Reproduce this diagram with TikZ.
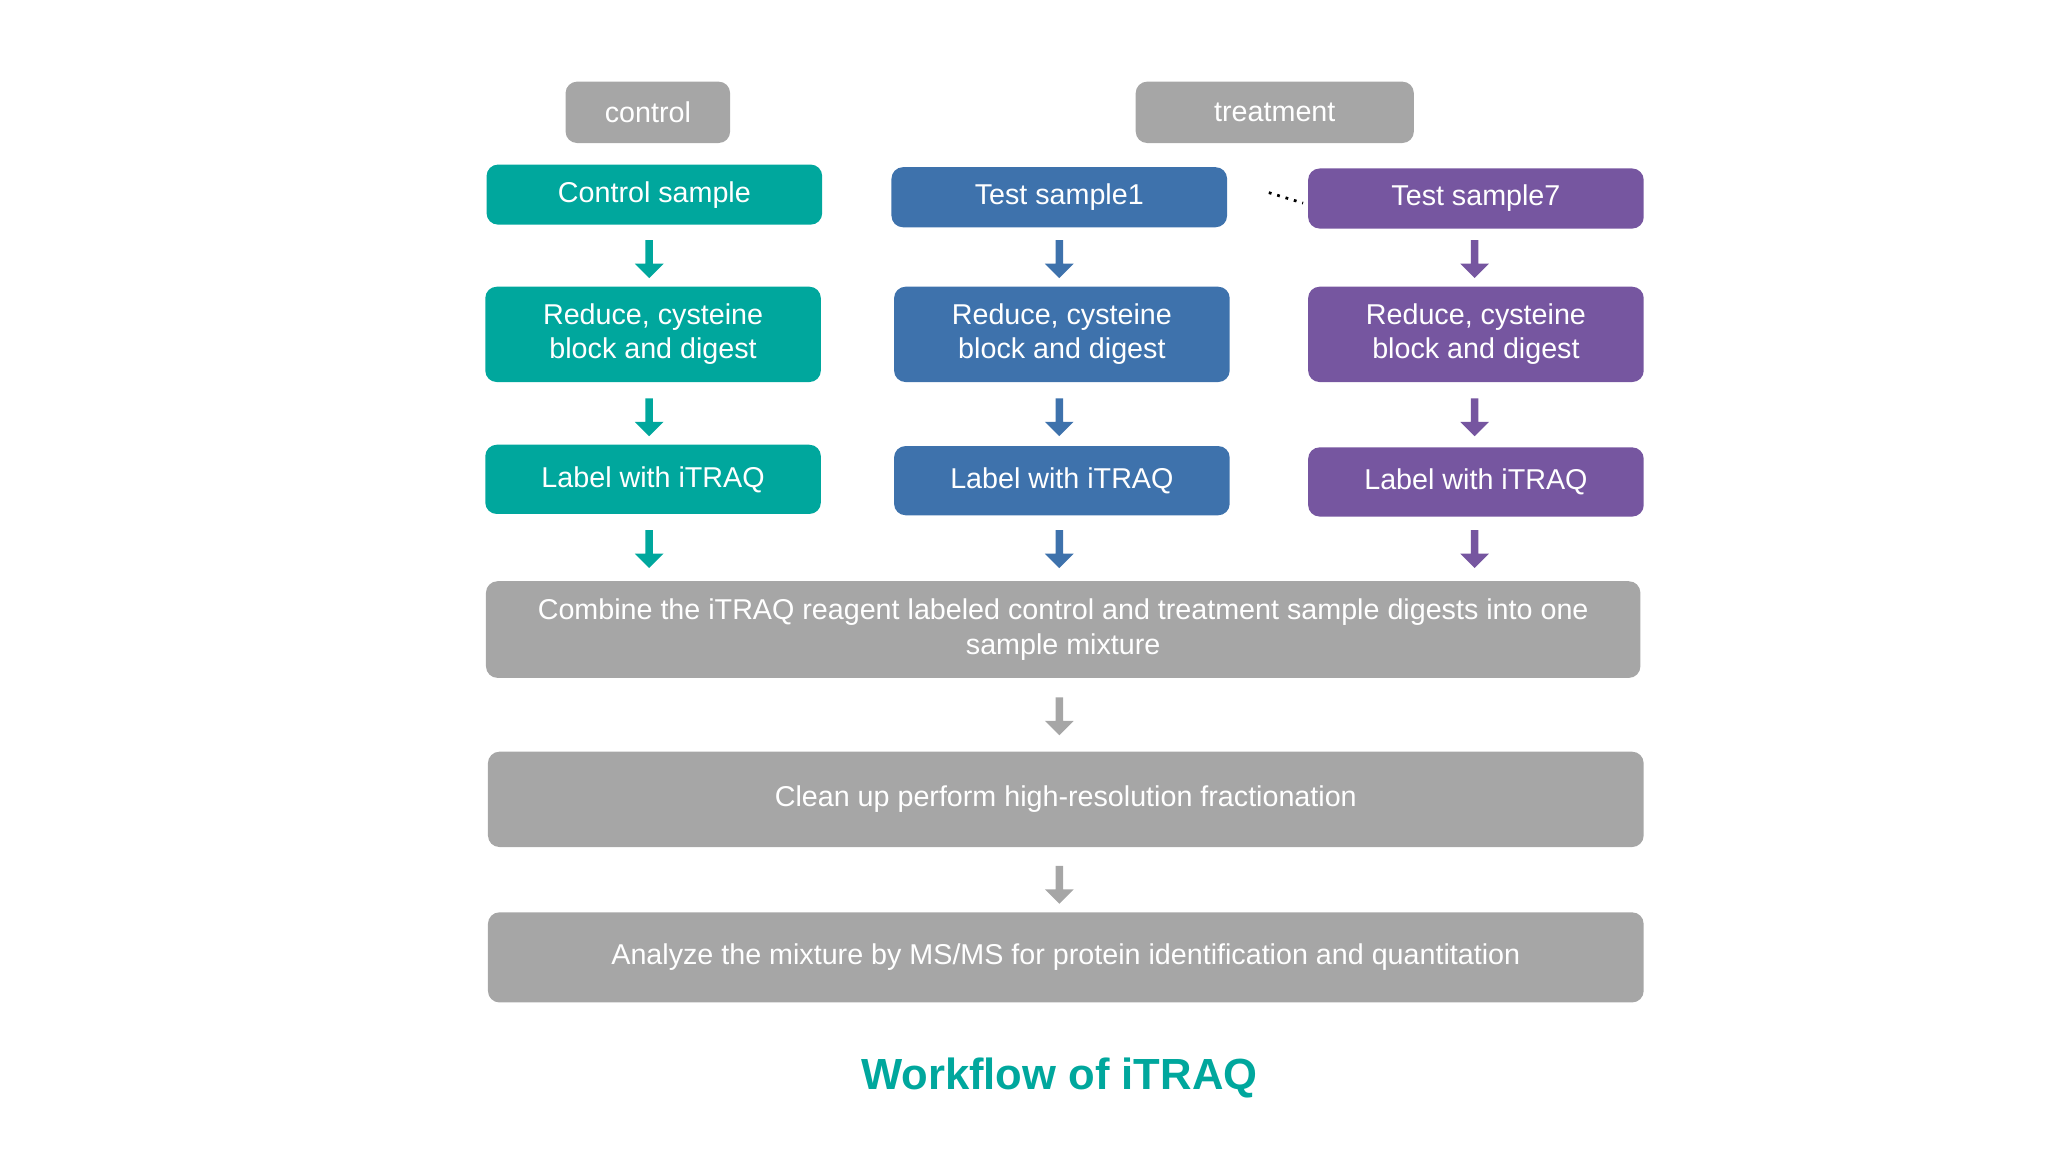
\documentclass[tikz,border=0pt]{standalone}
\usepackage{fontspec}
\setmainfont{Liberation Sans}
\usetikzlibrary{positioning, shapes.arrows}
\definecolor{ctrlteal}{HTML}{00A79D}
\definecolor{testblue}{HTML}{3E72AC}
\definecolor{testpurple}{HTML}{7656A0}
\definecolor{boxgray}{HTML}{A6A6A6}
\begin{document}
\begin{tikzpicture}[
    x=0.02cm, y=-0.02cm,
    every node/.style={font=\fontsize{12.5}{15}\selectfont},
    box/.style={draw=none, rectangle, rounded corners=5pt, align=center, text=white, inner sep=0pt},
    head/.style={box, fill=boxgray, minimum height=0.94cm},
    stepbox/.style={box, minimum width=5.14cm},
    wide/.style={box, fill=boxgray, minimum width=17.7cm},
    dnarrow/.style={single arrow, draw=none, fill=#1, shape border rotate=270, minimum height=0.58cm,
        minimum width=0.44cm, single arrow head extend=0.1cm, inner sep=0.8pt}
]
\useasboundingbox (0,0) rectangle (1568,882);

% group headers
\node[head, minimum width=2.52cm] (control) at (496,86) {control};
\node[head, minimum width=4.26cm] (treatment) at (976,86) {treatment};

% control column
\node[stepbox, fill=ctrlteal, minimum height=0.92cm] (csample) at (501,149) {Control sample};
\node[dnarrow=ctrlteal] (ca1) at (497,197) {};
\node[stepbox, fill=ctrlteal, minimum height=1.46cm] (creduce) at (500,256) {Reduce, cysteine\\block and digest};
\node[dnarrow=ctrlteal] (ca2) at (497,318) {};
\node[stepbox, fill=ctrlteal, minimum height=1.06cm] (clabel) at (500,367) {Label with iTRAQ};
\node[dnarrow=ctrlteal] (ca3) at (497,419) {};

% test sample 1
\node[stepbox, fill=testblue, minimum height=0.92cm] (t1sample) at (811,151) {Test sample1};
\node[dnarrow=testblue] (t1a1) at (811,197) {};
\node[stepbox, fill=testblue, minimum height=1.46cm] (t1reduce) at (813,256) {Reduce, cysteine\\block and digest};
\node[dnarrow=testblue] (t1a2) at (811,318) {};
\node[stepbox, fill=testblue, minimum height=1.06cm] (t1label) at (813,368) {Label with iTRAQ};
\node[dnarrow=testblue] (t1a3) at (811,419) {};

% test sample 7
\node[stepbox, fill=testpurple, minimum height=0.92cm] (t7sample) at (1130,152) {Test sample7};
\node[dnarrow=testpurple] (t7a1) at (1129,197) {};
\node[stepbox, fill=testpurple, minimum height=1.46cm] (t7reduce) at (1130,256) {Reduce, cysteine\\block and digest};
\node[dnarrow=testpurple] (t7a2) at (1129,318) {};
\node[stepbox, fill=testpurple, minimum height=1.06cm] (t7label) at (1130,369) {Label with iTRAQ};
\node[dnarrow=testpurple] (t7a3) at (1129,419) {};

\draw[line width=1.2pt, dash pattern=on 1.2pt off 2.6pt] ([xshift=18,yshift=2]t1sample.east) -- ([xshift=-2pt,yshift=-2pt]t7sample.west);

% common steps
\node[wide, minimum width=17.68cm, minimum height=1.48cm] (combine) at (814,482) {Combine the iTRAQ reagent labeled control and treatment sample digests into one\\sample mixture};
\node[dnarrow=boxgray] (ga1) at (811,547) {};
\node[wide, minimum height=1.46cm] (cleanup) at (816,612) {Clean up perform high-resolution fractionation};
\node[dnarrow=boxgray] (ga2) at (811,676) {};
\node[wide, minimum height=1.38cm] (analyze) at (816,733) {Analyze the mixture by MS/MS for protein identification and quantitation};

% caption
\node[font=\fontsize{19}{22}\selectfont\bfseries, text=ctrlteal] (title) at (811,825) {Workflow of iTRAQ};
\end{tikzpicture}
\end{document}
